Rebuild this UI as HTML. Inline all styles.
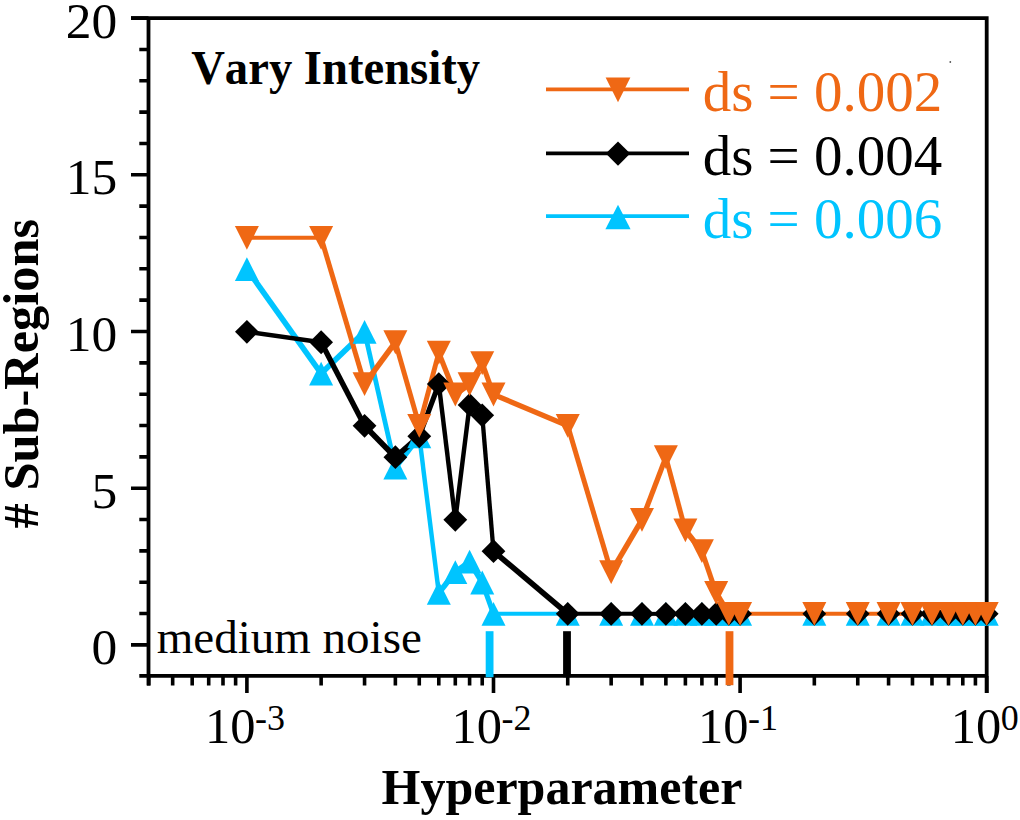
<!DOCTYPE html>
<html><head><meta charset="utf-8"><style>html,body{margin:0;padding:0;background:#fff;overflow:hidden;}svg{display:block;} text{font-kerning:none;}</style></head><body>
<svg width="1020" height="820" viewBox="0 0 1020 820">
<rect width="1020" height="820" fill="#fff"/>
<g stroke="#000" stroke-width="3.8" fill="none" stroke-linecap="butt">
<path d="M148.5,16.3 V685.5 M139.3,675.9 H988.6 M131,18.2 H988.6 M986.7,16.3 V693"/>
<path stroke-width="3.6" d="M131,644.90 H148.5 M139.3,613.56 H148.5 M139.3,582.22 H148.5 M139.3,550.88 H148.5 M139.3,519.54 H148.5 M131,488.20 H148.5 M139.3,456.86 H148.5 M139.3,425.52 H148.5 M139.3,394.18 H148.5 M139.3,362.84 H148.5 M131,331.50 H148.5 M139.3,300.16 H148.5 M139.3,268.82 H148.5 M139.3,237.48 H148.5 M139.3,206.14 H148.5 M131,174.80 H148.5 M139.3,143.46 H148.5 M139.3,112.12 H148.5 M139.3,80.78 H148.5 M139.3,49.44 H148.5 M131,18.10 H148.5 M148.77,675.9 V685.5 M172.67,675.9 V685.5 M192.19,675.9 V685.5 M208.70,675.9 V685.5 M223.00,675.9 V685.5 M235.62,675.9 V685.5 M246.90,675.9 V693 M321.13,675.9 V685.5 M364.56,675.9 V685.5 M395.37,675.9 V685.5 M419.27,675.9 V685.5 M438.79,675.9 V685.5 M455.30,675.9 V685.5 M469.60,675.9 V685.5 M482.22,675.9 V685.5 M493.50,675.9 V693 M567.73,675.9 V685.5 M611.16,675.9 V685.5 M641.97,675.9 V685.5 M665.87,675.9 V685.5 M685.39,675.9 V685.5 M701.90,675.9 V685.5 M716.20,675.9 V685.5 M728.82,675.9 V685.5 M740.10,675.9 V693 M814.33,675.9 V685.5 M857.76,675.9 V685.5 M888.57,675.9 V685.5 M912.47,675.9 V685.5 M931.99,675.9 V685.5 M948.50,675.9 V685.5 M962.80,675.9 V685.5 M975.42,675.9 V685.5 M986.70,675.9 V693"/>
</g>
<rect x="485.7" y="631.2" width="7.8" height="46" fill="#00C4FF"/>
<rect x="563.1" y="631.2" width="7.8" height="46" fill="#000000"/>
<rect x="725.6" y="631.2" width="7.8" height="54" fill="#EF6814"/>
<g fill="#00C4FF"><polygon points="244.90,267.12 248.90,267.12 323.13,371.59 323.13,375.59 319.13,375.59 244.90,271.12"/><polygon points="319.13,371.59 362.56,329.80 366.56,329.80 366.56,333.80 323.13,375.59 319.13,375.59"/><polygon points="362.56,329.80 366.56,329.80 397.37,465.61 397.37,469.61 393.37,469.61 362.56,333.80"/><polygon points="393.37,465.61 417.27,434.27 421.27,434.27 421.27,438.27 397.37,469.61 393.37,469.61"/><polygon points="417.27,434.27 421.27,434.27 440.79,590.97 440.79,594.97 436.79,594.97 417.27,438.27"/><polygon points="436.79,590.97 453.30,570.07 457.30,570.07 457.30,574.07 440.79,594.97 436.79,594.97"/><polygon points="453.30,570.07 467.60,559.63 471.60,559.63 471.60,563.63 457.30,574.07 453.30,574.07"/><polygon points="467.60,559.63 471.60,559.63 484.22,580.52 484.22,584.52 480.22,584.52 467.60,563.63"/><polygon points="480.22,580.52 484.22,580.52 495.50,611.86 495.50,615.86 491.50,615.86 480.22,584.52"/><polygon points="491.50,611.86 569.73,611.86 569.73,615.86 491.50,615.86"/></g>
<g fill="#000000"><polygon points="244.90,329.80 248.90,329.80 323.13,340.25 323.13,344.25 319.13,344.25 244.90,333.80"/><polygon points="319.13,340.25 323.13,340.25 366.56,423.82 366.56,427.82 362.56,427.82 319.13,344.25"/><polygon points="362.56,423.82 366.56,423.82 397.37,455.16 397.37,459.16 393.37,459.16 362.56,427.82"/><polygon points="393.37,455.16 417.27,434.27 421.27,434.27 421.27,438.27 397.37,459.16 393.37,459.16"/><polygon points="417.27,434.27 436.79,382.03 440.79,382.03 440.79,386.03 421.27,438.27 417.27,438.27"/><polygon points="436.79,382.03 440.79,382.03 457.30,517.84 457.30,521.84 453.30,521.84 436.79,386.03"/><polygon points="453.30,517.84 467.60,402.93 471.60,402.93 471.60,406.93 457.30,521.84 453.30,521.84"/><polygon points="467.60,402.93 471.60,402.93 484.22,413.37 484.22,417.37 480.22,417.37 467.60,406.93"/><polygon points="480.22,413.37 484.22,413.37 495.50,549.18 495.50,553.18 491.50,553.18 480.22,417.37"/><polygon points="491.50,549.18 495.50,549.18 569.73,611.86 569.73,615.86 565.73,615.86 491.50,553.18"/><polygon points="565.73,611.86 613.16,611.86 613.16,615.86 565.73,615.86"/><polygon points="609.16,611.86 643.97,611.86 643.97,615.86 609.16,615.86"/><polygon points="639.97,611.86 667.87,611.86 667.87,615.86 639.97,615.86"/><polygon points="663.87,611.86 687.39,611.86 687.39,615.86 663.87,615.86"/><polygon points="683.39,611.86 703.90,611.86 703.90,615.86 683.39,615.86"/><polygon points="699.90,611.86 718.20,611.86 718.20,615.86 699.90,615.86"/><polygon points="714.20,611.86 730.82,611.86 730.82,615.86 714.20,615.86"/></g>
<g fill="#EF6814"><polygon points="244.90,235.78 323.13,235.78 323.13,239.78 244.90,239.78"/><polygon points="319.13,235.78 323.13,235.78 366.56,382.03 366.56,386.03 362.56,386.03 319.13,239.78"/><polygon points="362.56,382.03 393.37,340.25 397.37,340.25 397.37,344.25 366.56,386.03 362.56,386.03"/><polygon points="393.37,340.25 397.37,340.25 421.27,423.82 421.27,427.82 417.27,427.82 393.37,344.25"/><polygon points="417.27,423.82 436.79,350.69 440.79,350.69 440.79,354.69 421.27,427.82 417.27,427.82"/><polygon points="436.79,350.69 440.79,350.69 457.30,392.48 457.30,396.48 453.30,396.48 436.79,354.69"/><polygon points="453.30,392.48 467.60,382.03 471.60,382.03 471.60,386.03 457.30,396.48 453.30,396.48"/><polygon points="467.60,382.03 480.22,361.14 484.22,361.14 484.22,365.14 471.60,386.03 467.60,386.03"/><polygon points="480.22,361.14 484.22,361.14 495.50,392.48 495.50,396.48 491.50,396.48 480.22,365.14"/><polygon points="491.50,392.48 495.50,392.48 569.73,423.82 569.73,427.82 565.73,427.82 491.50,396.48"/><polygon points="565.73,423.82 569.73,423.82 613.16,570.07 613.16,574.07 609.16,574.07 565.73,427.82"/><polygon points="609.16,570.07 639.97,517.84 643.97,517.84 643.97,521.84 613.16,574.07 609.16,574.07"/><polygon points="639.97,517.84 663.87,455.16 667.87,455.16 667.87,459.16 643.97,521.84 639.97,521.84"/><polygon points="663.87,455.16 667.87,455.16 687.39,528.29 687.39,532.29 683.39,532.29 663.87,459.16"/><polygon points="683.39,528.29 687.39,528.29 703.90,549.18 703.90,553.18 699.90,553.18 683.39,532.29"/><polygon points="699.90,549.18 703.90,549.18 718.20,590.97 718.20,594.97 714.20,594.97 699.90,553.18"/><polygon points="714.20,590.97 718.20,590.97 730.82,611.86 730.82,615.86 726.82,615.86 714.20,594.97"/><polygon points="726.82,611.86 742.10,611.86 742.10,615.86 726.82,615.86"/><polygon points="738.10,611.86 816.33,611.86 816.33,615.86 738.10,615.86"/><polygon points="812.33,611.86 859.76,611.86 859.76,615.86 812.33,615.86"/><polygon points="855.76,611.86 890.57,611.86 890.57,615.86 855.76,615.86"/><polygon points="886.57,611.86 914.47,611.86 914.47,615.86 886.57,615.86"/><polygon points="910.47,611.86 933.99,611.86 933.99,615.86 910.47,615.86"/><polygon points="929.99,611.86 950.50,611.86 950.50,615.86 929.99,615.86"/><polygon points="946.50,611.86 964.80,611.86 964.80,615.86 946.50,615.86"/><polygon points="960.80,611.86 977.42,611.86 977.42,615.86 960.80,615.86"/><polygon points="973.42,611.86 988.70,611.86 988.70,615.86 973.42,615.86"/></g>
<g fill="#00C4FF"><polygon points="234.90,281.02 258.90,281.02 246.90,257.22"/><polygon points="309.13,385.49 333.13,385.49 321.13,361.69"/><polygon points="352.56,343.70 376.56,343.70 364.56,319.90"/><polygon points="383.37,479.51 407.37,479.51 395.37,455.71"/><polygon points="407.27,448.17 431.27,448.17 419.27,424.37"/><polygon points="426.79,604.87 450.79,604.87 438.79,581.07"/><polygon points="443.30,583.97 467.30,583.97 455.30,560.17"/><polygon points="457.60,573.53 481.60,573.53 469.60,549.73"/><polygon points="470.22,594.42 494.22,594.42 482.22,570.62"/><polygon points="481.50,625.76 505.50,625.76 493.50,601.96"/><polygon points="555.73,625.76 579.73,625.76 567.73,601.96"/><polygon points="599.16,625.76 623.16,625.76 611.16,601.96"/><polygon points="629.97,625.76 653.97,625.76 641.97,601.96"/><polygon points="653.87,625.76 677.87,625.76 665.87,601.96"/><polygon points="673.39,625.76 697.39,625.76 685.39,601.96"/><polygon points="689.90,625.76 713.90,625.76 701.90,601.96"/><polygon points="704.20,625.76 728.20,625.76 716.20,601.96"/><polygon points="716.82,625.76 740.82,625.76 728.82,601.96"/><polygon points="728.10,625.76 752.10,625.76 740.10,601.96"/><polygon points="802.33,625.76 826.33,625.76 814.33,601.96"/><polygon points="845.76,625.76 869.76,625.76 857.76,601.96"/><polygon points="876.57,625.76 900.57,625.76 888.57,601.96"/><polygon points="900.47,625.76 924.47,625.76 912.47,601.96"/><polygon points="919.99,625.76 943.99,625.76 931.99,601.96"/><polygon points="936.50,625.76 960.50,625.76 948.50,601.96"/><polygon points="950.80,625.76 974.80,625.76 962.80,601.96"/><polygon points="963.42,625.76 987.42,625.76 975.42,601.96"/><polygon points="974.70,625.76 998.70,625.76 986.70,601.96"/></g>
<g fill="#000000"><polygon points="246.90,319.90 258.80,331.80 246.90,343.70 235.00,331.80"/><polygon points="321.13,330.35 333.03,342.25 321.13,354.15 309.23,342.25"/><polygon points="364.56,413.92 376.46,425.82 364.56,437.72 352.66,425.82"/><polygon points="395.37,445.26 407.27,457.16 395.37,469.06 383.47,457.16"/><polygon points="419.27,424.37 431.17,436.27 419.27,448.17 407.37,436.27"/><polygon points="438.79,372.13 450.69,384.03 438.79,395.93 426.89,384.03"/><polygon points="455.30,507.94 467.20,519.84 455.30,531.74 443.40,519.84"/><polygon points="469.60,393.03 481.50,404.93 469.60,416.83 457.70,404.93"/><polygon points="482.22,403.47 494.12,415.37 482.22,427.27 470.32,415.37"/><polygon points="493.50,539.28 505.40,551.18 493.50,563.08 481.60,551.18"/><polygon points="567.73,601.96 579.63,613.86 567.73,625.76 555.83,613.86"/><polygon points="611.16,601.96 623.06,613.86 611.16,625.76 599.26,613.86"/><polygon points="641.97,601.96 653.87,613.86 641.97,625.76 630.07,613.86"/><polygon points="665.87,601.96 677.77,613.86 665.87,625.76 653.97,613.86"/><polygon points="685.39,601.96 697.29,613.86 685.39,625.76 673.49,613.86"/><polygon points="701.90,601.96 713.80,613.86 701.90,625.76 690.00,613.86"/><polygon points="716.20,601.96 728.10,613.86 716.20,625.76 704.30,613.86"/><polygon points="728.82,601.96 740.72,613.86 728.82,625.76 716.92,613.86"/><polygon points="740.10,601.96 752.00,613.86 740.10,625.76 728.20,613.86"/><polygon points="814.33,601.96 826.23,613.86 814.33,625.76 802.43,613.86"/><polygon points="857.76,601.96 869.66,613.86 857.76,625.76 845.86,613.86"/><polygon points="888.57,601.96 900.47,613.86 888.57,625.76 876.67,613.86"/><polygon points="912.47,601.96 924.37,613.86 912.47,625.76 900.57,613.86"/><polygon points="931.99,601.96 943.89,613.86 931.99,625.76 920.09,613.86"/><polygon points="948.50,601.96 960.40,613.86 948.50,625.76 936.60,613.86"/><polygon points="962.80,601.96 974.70,613.86 962.80,625.76 950.90,613.86"/><polygon points="975.42,601.96 987.32,613.86 975.42,625.76 963.52,613.86"/><polygon points="986.70,601.96 998.60,613.86 986.70,625.76 974.80,613.86"/></g>
<g fill="#EF6814"><polygon points="234.90,225.88 258.90,225.88 246.90,249.68"/><polygon points="309.13,225.88 333.13,225.88 321.13,249.68"/><polygon points="352.56,372.13 376.56,372.13 364.56,395.93"/><polygon points="383.37,330.35 407.37,330.35 395.37,354.15"/><polygon points="407.27,413.92 431.27,413.92 419.27,437.72"/><polygon points="426.79,340.79 450.79,340.79 438.79,364.59"/><polygon points="443.30,382.58 467.30,382.58 455.30,406.38"/><polygon points="457.60,372.13 481.60,372.13 469.60,395.93"/><polygon points="470.22,351.24 494.22,351.24 482.22,375.04"/><polygon points="481.50,382.58 505.50,382.58 493.50,406.38"/><polygon points="555.73,413.92 579.73,413.92 567.73,437.72"/><polygon points="599.16,560.17 623.16,560.17 611.16,583.97"/><polygon points="629.97,507.94 653.97,507.94 641.97,531.74"/><polygon points="653.87,445.26 677.87,445.26 665.87,469.06"/><polygon points="673.39,518.39 697.39,518.39 685.39,542.19"/><polygon points="689.90,539.28 713.90,539.28 701.90,563.08"/><polygon points="704.20,581.07 728.20,581.07 716.20,604.87"/><polygon points="716.82,601.96 740.82,601.96 728.82,625.76"/><polygon points="728.10,601.96 752.10,601.96 740.10,625.76"/><polygon points="802.33,601.96 826.33,601.96 814.33,625.76"/><polygon points="845.76,601.96 869.76,601.96 857.76,625.76"/><polygon points="876.57,601.96 900.57,601.96 888.57,625.76"/><polygon points="900.47,601.96 924.47,601.96 912.47,625.76"/><polygon points="919.99,601.96 943.99,601.96 931.99,625.76"/><polygon points="936.50,601.96 960.50,601.96 948.50,625.76"/><polygon points="950.80,601.96 974.80,601.96 962.80,625.76"/><polygon points="963.42,601.96 987.42,601.96 975.42,625.76"/><polygon points="974.70,601.96 998.70,601.96 986.70,625.76"/></g>
<text font-family="Liberation Serif" font-size="51.5" text-anchor="end" x="117.2" y="664.3">0</text>
<text font-family="Liberation Serif" font-size="51.5" text-anchor="end" x="117.2" y="507.6">5</text>
<text font-family="Liberation Serif" font-size="51.5" text-anchor="end" x="117.2" y="350.9">10</text>
<text font-family="Liberation Serif" font-size="51.5" text-anchor="end" x="117.2" y="194.2">15</text>
<text font-family="Liberation Serif" font-size="51.5" text-anchor="end" x="117.2" y="37.5">20</text>
<text font-family="Liberation Serif" font-size="50.5" text-anchor="middle" x="244.9" y="742.6">10<tspan font-size="36" dx="-0.5" dy="-12.3">-3</tspan></text>
<text font-family="Liberation Serif" font-size="50.5" text-anchor="middle" x="491.5" y="742.6">10<tspan font-size="36" dx="-0.5" dy="-12.3">-2</tspan></text>
<text font-family="Liberation Serif" font-size="50.5" text-anchor="middle" x="738.1" y="742.6">10<tspan font-size="36" dx="-0.5" dy="-12.3">-1</tspan></text>
<text font-family="Liberation Serif" font-size="50.5" text-anchor="middle" x="984.7" y="742.6">10<tspan font-size="36" dx="-0.5" dy="-12.3">0</tspan></text>
<text font-family="Liberation Serif" font-size="50" font-weight="bold" x="381.5" y="803.9">Hyperparameter</text>
<text font-family="Liberation Serif" font-size="50.4" font-weight="bold" transform="translate(38.3,528.4) rotate(-90)">#&#160;Sub-Regions</text>
<text font-family="Liberation Serif" font-size="48.5" font-weight="bold" x="191.2" y="83.6" textLength="288.9" lengthAdjust="spacingAndGlyphs">Vary Intensity</text>
<text font-family="Liberation Serif" font-size="47" x="156.8" y="653.4">medium noise</text>
<line x1="546" y1="89.4" x2="689" y2="89.4" stroke="#EF6814" stroke-width="3.8"/>
<polygon fill="#EF6814" points="605.6,77.6 630.4,77.6 618,102.2"/>
<text font-family="Liberation Serif" font-size="57" fill="#EF6814" x="702.7" y="111.0">ds = 0.002</text>
<line x1="546" y1="153.3" x2="689" y2="153.3" stroke="#000000" stroke-width="3.8"/>
<polygon fill="#000000" points="618,141.5 630.2,153.6 618,165.8 605.8,153.6"/>
<text font-family="Liberation Serif" font-size="57" fill="#000000" x="702.7" y="175.0">ds = 0.004</text>
<line x1="546" y1="216.1" x2="689" y2="216.1" stroke="#00C4FF" stroke-width="3.8"/>
<polygon fill="#00C4FF" points="605.4,229.3 630.6,229.3 618,204.8"/>
<text font-family="Liberation Serif" font-size="57" fill="#00C4FF" x="702.7" y="237.5">ds = 0.006</text>
<circle cx="950.3" cy="62" r="0.9" fill="#555"/>
</svg>
</body></html>
